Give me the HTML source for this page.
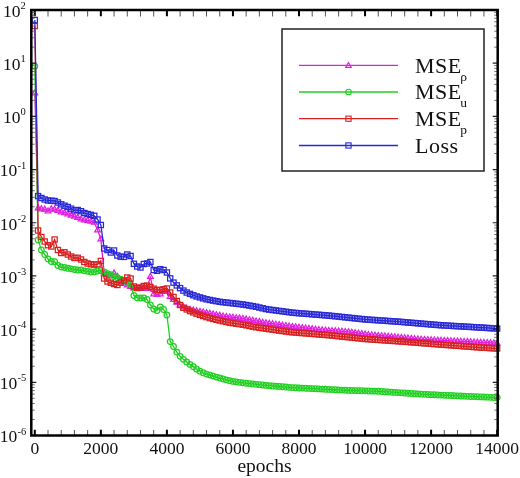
<!DOCTYPE html>
<html><head><meta charset="utf-8"><title>Loss curves</title>
<style>html,body{margin:0;padding:0;background:#fff;}svg{display:block;}</style>
</head><body>
<svg width="520" height="478" viewBox="0 0 520 478">
<rect width="520" height="478" fill="#fff"/>
<g fill="none" stroke="#e020e0"><polyline stroke-width="1.3" points="34.8,93 38.1,208 41.4,208.8 44.71,209.2 48.01,211 51.31,208.8 54.61,209.2 57.92,210.3 61.22,211.8 64.52,212.6 67.82,213.8 71.13,215.2 74.43,216.2 77.73,217.3 81.03,219 84.34,220 87.64,220.4 90.94,221.2 94.25,222.2 97.55,230 100.85,239 104.15,273 107.45,275 110.76,275.5 114.06,273 117.36,276.5 120.66,280 123.97,283 127.27,285 130.57,286.5 133.88,288 137.18,288.5 140.48,288.5 143.78,288 147.08,288.5 150.39,276.4 153.69,294 156.99,294.5 160.29,294 163.6,291.5 166.9,291 170.2,296.5 173.5,299.5 176.81,302.24 180.11,304.98 183.41,306.93 186.71,308.15 190.02,309.37 193.32,310.04 196.62,310.69 199.93,311.34 203.23,311.99 206.53,312.65 209.83,313.31 213.13,313.98 216.44,314.65 219.74,315.32 223.04,315.99 226.34,316.44 229.65,316.85 232.95,317.26 236.25,317.67 239.56,318.08 242.86,318.5 246.16,319.07 249.46,319.69 252.76,320.32 256.07,320.95 259.37,321.57 262.67,322.2 265.97,322.82 269.28,323.32 272.58,323.76 275.88,324.2 279.19,324.64 282.49,325.09 285.79,325.53 289.09,325.97 292.39,326.41 295.7,326.82 299,327.22 302.3,327.61 305.61,328 308.91,328.39 312.21,328.78 315.51,329.17 318.81,329.56 322.12,329.89 325.42,330.13 328.72,330.36 332.02,330.59 335.33,330.83 338.63,331.06 341.93,331.29 345.24,331.53 348.54,331.81 351.84,332.26 355.14,332.7 358.44,333.15 361.75,333.59 365.05,334.03 368.35,334.48 371.65,334.85 374.96,335.14 378.26,335.43 381.56,335.72 384.87,336.02 388.17,336.31 391.47,336.6 394.77,336.9 398.07,337.19 401.38,337.48 404.68,337.77 407.98,338.07 411.29,338.36 414.59,338.65 417.89,338.94 421.19,339.24 424.5,339.43 427.8,339.6 431.1,339.76 434.4,339.93 437.7,340.09 441.01,340.26 444.31,340.42 447.61,340.59 450.92,340.75 454.22,340.92 457.52,341.08 460.82,341.25 464.12,341.42 467.43,341.58 470.73,341.75 474.03,341.91 477.33,342.09 480.64,342.28 483.94,342.46 487.24,342.64 490.55,342.82 493.85,343 497.15,343.19"/><g stroke-width="1.25"><path d="M34.8 90.04L37.66 94.98L31.94 94.98Z"/><path d="M38.1 205.04L40.96 209.98L35.24 209.98Z"/><path d="M41.4 205.84L44.26 210.78L38.54 210.78Z"/><path d="M44.71 206.24L47.57 211.18L41.85 211.18Z"/><path d="M48.01 208.04L50.87 212.98L45.15 212.98Z"/><path d="M51.31 205.84L54.17 210.78L48.45 210.78Z"/><path d="M54.61 206.24L57.47 211.18L51.75 211.18Z"/><path d="M57.92 207.34L60.78 212.28L55.06 212.28Z"/><path d="M61.22 208.84L64.08 213.78L58.36 213.78Z"/><path d="M64.52 209.64L67.38 214.58L61.66 214.58Z"/><path d="M67.82 210.84L70.68 215.78L64.96 215.78Z"/><path d="M71.13 212.24L73.99 217.18L68.27 217.18Z"/><path d="M74.43 213.24L77.29 218.18L71.57 218.18Z"/><path d="M77.73 214.34L80.59 219.28L74.87 219.28Z"/><path d="M81.03 216.04L83.89 220.98L78.17 220.98Z"/><path d="M84.34 217.04L87.2 221.98L81.48 221.98Z"/><path d="M87.64 217.44L90.5 222.38L84.78 222.38Z"/><path d="M90.94 218.24L93.8 223.18L88.08 223.18Z"/><path d="M94.25 219.24L97.11 224.18L91.39 224.18Z"/><path d="M97.55 227.04L100.41 231.98L94.69 231.98Z"/><path d="M100.85 236.04L103.71 240.98L97.99 240.98Z"/><path d="M104.15 270.04L107.01 274.98L101.29 274.98Z"/><path d="M107.45 272.04L110.31 276.98L104.59 276.98Z"/><path d="M110.76 272.54L113.62 277.48L107.9 277.48Z"/><path d="M114.06 270.04L116.92 274.98L111.2 274.98Z"/><path d="M117.36 273.54L120.22 278.48L114.5 278.48Z"/><path d="M120.66 277.04L123.52 281.98L117.8 281.98Z"/><path d="M123.97 280.04L126.83 284.98L121.11 284.98Z"/><path d="M127.27 282.04L130.13 286.98L124.41 286.98Z"/><path d="M130.57 283.54L133.43 288.48L127.71 288.48Z"/><path d="M133.88 285.04L136.74 289.98L131.01 289.98Z"/><path d="M137.18 285.54L140.04 290.48L134.32 290.48Z"/><path d="M140.48 285.54L143.34 290.48L137.62 290.48Z"/><path d="M143.78 285.04L146.64 289.98L140.92 289.98Z"/><path d="M147.08 285.54L149.94 290.48L144.22 290.48Z"/><path d="M150.39 273.44L153.25 278.38L147.53 278.38Z"/><path d="M153.69 291.04L156.55 295.98L150.83 295.98Z"/><path d="M156.99 291.54L159.85 296.48L154.13 296.48Z"/><path d="M160.29 291.04L163.16 295.98L157.43 295.98Z"/><path d="M163.6 288.54L166.46 293.48L160.74 293.48Z"/><path d="M166.9 288.04L169.76 292.98L164.04 292.98Z"/><path d="M170.2 293.54L173.06 298.48L167.34 298.48Z"/><path d="M173.5 296.54L176.37 301.48L170.64 301.48Z"/><path d="M176.81 299.28L179.67 304.22L173.95 304.22Z"/><path d="M180.11 302.02L182.97 306.96L177.25 306.96Z"/><path d="M183.41 303.97L186.27 308.91L180.55 308.91Z"/><path d="M186.71 305.19L189.57 310.13L183.85 310.13Z"/><path d="M190.02 306.41L192.88 311.35L187.16 311.35Z"/><path d="M193.32 307.07L196.18 312.01L190.46 312.01Z"/><path d="M196.62 307.72L199.48 312.66L193.76 312.66Z"/><path d="M199.93 308.38L202.79 313.32L197.06 313.32Z"/><path d="M203.23 309.03L206.09 313.97L200.37 313.97Z"/><path d="M206.53 309.68L209.39 314.62L203.67 314.62Z"/><path d="M209.83 310.35L212.69 315.29L206.97 315.29Z"/><path d="M213.13 311.02L216 315.96L210.27 315.96Z"/><path d="M216.44 311.69L219.3 316.63L213.58 316.63Z"/><path d="M219.74 312.35L222.6 317.29L216.88 317.29Z"/><path d="M223.04 313.02L225.9 317.96L220.18 317.96Z"/><path d="M226.34 313.48L229.2 318.42L223.48 318.42Z"/><path d="M229.65 313.89L232.51 318.83L226.79 318.83Z"/><path d="M232.95 314.3L235.81 319.24L230.09 319.24Z"/><path d="M236.25 314.71L239.11 319.65L233.39 319.65Z"/><path d="M239.56 315.12L242.42 320.06L236.69 320.06Z"/><path d="M242.86 315.53L245.72 320.47L240 320.47Z"/><path d="M246.16 316.1L249.02 321.04L243.3 321.04Z"/><path d="M249.46 316.73L252.32 321.67L246.6 321.67Z"/><path d="M252.76 317.36L255.62 322.3L249.9 322.3Z"/><path d="M256.07 317.98L258.93 322.92L253.21 322.92Z"/><path d="M259.37 318.61L262.23 323.55L256.51 323.55Z"/><path d="M262.67 319.23L265.53 324.17L259.81 324.17Z"/><path d="M265.97 319.86L268.83 324.8L263.11 324.8Z"/><path d="M269.28 320.35L272.14 325.29L266.42 325.29Z"/><path d="M272.58 320.8L275.44 325.74L269.72 325.74Z"/><path d="M275.88 321.24L278.74 326.18L273.02 326.18Z"/><path d="M279.19 321.68L282.05 326.62L276.32 326.62Z"/><path d="M282.49 322.12L285.35 327.06L279.63 327.06Z"/><path d="M285.79 322.56L288.65 327.5L282.93 327.5Z"/><path d="M289.09 323.01L291.95 327.95L286.23 327.95Z"/><path d="M292.39 323.45L295.25 328.39L289.53 328.39Z"/><path d="M295.7 323.86L298.56 328.8L292.84 328.8Z"/><path d="M299 324.25L301.86 329.19L296.14 329.19Z"/><path d="M302.3 324.64L305.16 329.58L299.44 329.58Z"/><path d="M305.61 325.04L308.47 329.98L302.75 329.98Z"/><path d="M308.91 325.43L311.77 330.37L306.05 330.37Z"/><path d="M312.21 325.82L315.07 330.76L309.35 330.76Z"/><path d="M315.51 326.21L318.37 331.15L312.65 331.15Z"/><path d="M318.81 326.6L321.68 331.54L315.95 331.54Z"/><path d="M322.12 326.93L324.98 331.87L319.26 331.87Z"/><path d="M325.42 327.16L328.28 332.1L322.56 332.1Z"/><path d="M328.72 327.4L331.58 332.34L325.86 332.34Z"/><path d="M332.02 327.63L334.88 332.57L329.16 332.57Z"/><path d="M335.33 327.86L338.19 332.8L332.47 332.8Z"/><path d="M338.63 328.1L341.49 333.04L335.77 333.04Z"/><path d="M341.93 328.33L344.79 333.27L339.07 333.27Z"/><path d="M345.24 328.56L348.1 333.5L342.38 333.5Z"/><path d="M348.54 328.85L351.4 333.79L345.68 333.79Z"/><path d="M351.84 329.29L354.7 334.23L348.98 334.23Z"/><path d="M355.14 329.74L358 334.68L352.28 334.68Z"/><path d="M358.44 330.18L361.31 335.12L355.58 335.12Z"/><path d="M361.75 330.63L364.61 335.57L358.89 335.57Z"/><path d="M365.05 331.07L367.91 336.01L362.19 336.01Z"/><path d="M368.35 331.51L371.21 336.45L365.49 336.45Z"/><path d="M371.65 331.88L374.51 336.82L368.79 336.82Z"/><path d="M374.96 332.18L377.82 337.12L372.1 337.12Z"/><path d="M378.26 332.47L381.12 337.41L375.4 337.41Z"/><path d="M381.56 332.76L384.42 337.7L378.7 337.7Z"/><path d="M384.87 333.05L387.73 337.99L382 337.99Z"/><path d="M388.17 333.35L391.03 338.29L385.31 338.29Z"/><path d="M391.47 333.64L394.33 338.58L388.61 338.58Z"/><path d="M394.77 333.93L397.63 338.87L391.91 338.87Z"/><path d="M398.07 334.22L400.94 339.16L395.21 339.16Z"/><path d="M401.38 334.52L404.24 339.46L398.52 339.46Z"/><path d="M404.68 334.81L407.54 339.75L401.82 339.75Z"/><path d="M407.98 335.1L410.84 340.04L405.12 340.04Z"/><path d="M411.29 335.4L414.15 340.34L408.43 340.34Z"/><path d="M414.59 335.69L417.45 340.63L411.73 340.63Z"/><path d="M417.89 335.98L420.75 340.92L415.03 340.92Z"/><path d="M421.19 336.27L424.05 341.21L418.33 341.21Z"/><path d="M424.5 336.47L427.36 341.41L421.63 341.41Z"/><path d="M427.8 336.63L430.66 341.57L424.94 341.57Z"/><path d="M431.1 336.8L433.96 341.74L428.24 341.74Z"/><path d="M434.4 336.96L437.26 341.9L431.54 341.9Z"/><path d="M437.7 337.13L440.56 342.07L434.84 342.07Z"/><path d="M441.01 337.29L443.87 342.23L438.15 342.23Z"/><path d="M444.31 337.46L447.17 342.4L441.45 342.4Z"/><path d="M447.61 337.62L450.47 342.56L444.75 342.56Z"/><path d="M450.92 337.79L453.78 342.73L448.06 342.73Z"/><path d="M454.22 337.95L457.08 342.89L451.36 342.89Z"/><path d="M457.52 338.12L460.38 343.06L454.66 343.06Z"/><path d="M460.82 338.29L463.68 343.23L457.96 343.23Z"/><path d="M464.12 338.45L466.99 343.39L461.26 343.39Z"/><path d="M467.43 338.62L470.29 343.56L464.57 343.56Z"/><path d="M470.73 338.78L473.59 343.72L467.87 343.72Z"/><path d="M474.03 338.95L476.89 343.89L471.17 343.89Z"/><path d="M477.33 339.13L480.19 344.07L474.47 344.07Z"/><path d="M480.64 339.31L483.5 344.25L477.78 344.25Z"/><path d="M483.94 339.49L486.8 344.43L481.08 344.43Z"/><path d="M487.24 339.68L490.1 344.62L484.38 344.62Z"/><path d="M490.55 339.86L493.41 344.8L487.69 344.8Z"/><path d="M493.85 340.04L496.71 344.98L490.99 344.98Z"/><path d="M497.15 340.22L500.01 345.16L494.29 345.16Z"/></g></g>

<g fill="none" stroke="#20d020"><polyline stroke-width="1.3" points="34.8,66.3 38.1,240 41.4,250 44.71,254.5 48.01,259 51.31,261.5 54.61,261.7 57.92,265.5 61.22,267 64.52,267.5 67.82,268.2 71.13,268.8 74.43,269.5 77.73,270 81.03,270 84.34,270.8 87.64,271.3 90.94,272 94.25,271.8 97.55,271 100.85,270.5 104.15,271.8 107.45,273.6 110.76,274.6 114.06,276.4 117.36,277.7 120.66,279.2 123.97,280.6 127.27,282.5 130.57,284.3 133.88,295.5 137.18,297.8 140.48,298 143.78,297.8 147.08,299.5 150.39,305 153.69,309 156.99,310.5 160.29,307 163.6,309.5 166.9,315 170.2,341.6 173.5,346.5 176.81,352.07 180.11,356.35 183.41,359.36 186.71,362.01 190.02,364.38 193.32,366.77 196.62,369.19 199.93,371.13 203.23,372.74 206.53,374.06 209.83,375.06 213.13,376.06 216.44,377.05 219.74,378.03 223.04,378.99 226.34,379.81 229.65,380.64 232.95,381.44 236.25,381.9 239.56,382.36 242.86,382.83 246.16,383.25 249.46,383.61 252.76,383.96 256.07,384.32 259.37,384.68 262.67,385.04 265.97,385.4 269.28,385.69 272.58,385.96 275.88,386.23 279.19,386.5 282.49,386.77 285.79,387.04 289.09,387.31 292.39,387.59 295.7,387.79 299,387.95 302.3,388.11 305.61,388.27 308.91,388.43 312.21,388.59 315.51,388.75 318.81,388.9 322.12,389.07 325.42,389.24 328.72,389.41 332.02,389.58 335.33,389.76 338.63,389.93 341.93,390.1 345.24,390.27 348.54,390.42 351.84,390.51 355.14,390.6 358.44,390.69 361.75,390.78 365.05,390.87 368.35,390.96 371.65,391.05 374.96,391.14 378.26,391.26 381.56,391.49 384.87,391.71 388.17,391.93 391.47,392.15 394.77,392.38 398.07,392.6 401.38,392.82 404.68,393.04 407.98,393.26 411.29,393.49 414.59,393.71 417.89,393.93 421.19,394.15 424.5,394.32 427.8,394.47 431.1,394.63 434.4,394.78 437.7,394.93 441.01,395.08 444.31,395.24 447.61,395.39 450.92,395.54 454.22,395.69 457.52,395.85 460.82,396 464.12,396.15 467.43,396.31 470.73,396.46 474.03,396.61 477.33,396.75 480.64,396.89 483.94,397.03 487.24,397.17 490.55,397.31 493.85,397.45 497.15,397.59"/><g stroke-width="1.25"><circle cx="34.8" cy="66.3" r="2.8"/><circle cx="38.1" cy="240" r="2.8"/><circle cx="41.4" cy="250" r="2.8"/><circle cx="44.71" cy="254.5" r="2.8"/><circle cx="48.01" cy="259" r="2.8"/><circle cx="51.31" cy="261.5" r="2.8"/><circle cx="54.61" cy="261.7" r="2.8"/><circle cx="57.92" cy="265.5" r="2.8"/><circle cx="61.22" cy="267" r="2.8"/><circle cx="64.52" cy="267.5" r="2.8"/><circle cx="67.82" cy="268.2" r="2.8"/><circle cx="71.13" cy="268.8" r="2.8"/><circle cx="74.43" cy="269.5" r="2.8"/><circle cx="77.73" cy="270" r="2.8"/><circle cx="81.03" cy="270" r="2.8"/><circle cx="84.34" cy="270.8" r="2.8"/><circle cx="87.64" cy="271.3" r="2.8"/><circle cx="90.94" cy="272" r="2.8"/><circle cx="94.25" cy="271.8" r="2.8"/><circle cx="97.55" cy="271" r="2.8"/><circle cx="100.85" cy="270.5" r="2.8"/><circle cx="104.15" cy="271.8" r="2.8"/><circle cx="107.45" cy="273.6" r="2.8"/><circle cx="110.76" cy="274.6" r="2.8"/><circle cx="114.06" cy="276.4" r="2.8"/><circle cx="117.36" cy="277.7" r="2.8"/><circle cx="120.66" cy="279.2" r="2.8"/><circle cx="123.97" cy="280.6" r="2.8"/><circle cx="127.27" cy="282.5" r="2.8"/><circle cx="130.57" cy="284.3" r="2.8"/><circle cx="133.88" cy="295.5" r="2.8"/><circle cx="137.18" cy="297.8" r="2.8"/><circle cx="140.48" cy="298" r="2.8"/><circle cx="143.78" cy="297.8" r="2.8"/><circle cx="147.08" cy="299.5" r="2.8"/><circle cx="150.39" cy="305" r="2.8"/><circle cx="153.69" cy="309" r="2.8"/><circle cx="156.99" cy="310.5" r="2.8"/><circle cx="160.29" cy="307" r="2.8"/><circle cx="163.6" cy="309.5" r="2.8"/><circle cx="166.9" cy="315" r="2.8"/><circle cx="170.2" cy="341.6" r="2.8"/><circle cx="173.5" cy="346.5" r="2.8"/><circle cx="176.81" cy="352.07" r="2.8"/><circle cx="180.11" cy="356.35" r="2.8"/><circle cx="183.41" cy="359.36" r="2.8"/><circle cx="186.71" cy="362.01" r="2.8"/><circle cx="190.02" cy="364.38" r="2.8"/><circle cx="193.32" cy="366.77" r="2.8"/><circle cx="196.62" cy="369.19" r="2.8"/><circle cx="199.93" cy="371.13" r="2.8"/><circle cx="203.23" cy="372.74" r="2.8"/><circle cx="206.53" cy="374.06" r="2.8"/><circle cx="209.83" cy="375.06" r="2.8"/><circle cx="213.13" cy="376.06" r="2.8"/><circle cx="216.44" cy="377.05" r="2.8"/><circle cx="219.74" cy="378.03" r="2.8"/><circle cx="223.04" cy="378.99" r="2.8"/><circle cx="226.34" cy="379.81" r="2.8"/><circle cx="229.65" cy="380.64" r="2.8"/><circle cx="232.95" cy="381.44" r="2.8"/><circle cx="236.25" cy="381.9" r="2.8"/><circle cx="239.56" cy="382.36" r="2.8"/><circle cx="242.86" cy="382.83" r="2.8"/><circle cx="246.16" cy="383.25" r="2.8"/><circle cx="249.46" cy="383.61" r="2.8"/><circle cx="252.76" cy="383.96" r="2.8"/><circle cx="256.07" cy="384.32" r="2.8"/><circle cx="259.37" cy="384.68" r="2.8"/><circle cx="262.67" cy="385.04" r="2.8"/><circle cx="265.97" cy="385.4" r="2.8"/><circle cx="269.28" cy="385.69" r="2.8"/><circle cx="272.58" cy="385.96" r="2.8"/><circle cx="275.88" cy="386.23" r="2.8"/><circle cx="279.19" cy="386.5" r="2.8"/><circle cx="282.49" cy="386.77" r="2.8"/><circle cx="285.79" cy="387.04" r="2.8"/><circle cx="289.09" cy="387.31" r="2.8"/><circle cx="292.39" cy="387.59" r="2.8"/><circle cx="295.7" cy="387.79" r="2.8"/><circle cx="299" cy="387.95" r="2.8"/><circle cx="302.3" cy="388.11" r="2.8"/><circle cx="305.61" cy="388.27" r="2.8"/><circle cx="308.91" cy="388.43" r="2.8"/><circle cx="312.21" cy="388.59" r="2.8"/><circle cx="315.51" cy="388.75" r="2.8"/><circle cx="318.81" cy="388.9" r="2.8"/><circle cx="322.12" cy="389.07" r="2.8"/><circle cx="325.42" cy="389.24" r="2.8"/><circle cx="328.72" cy="389.41" r="2.8"/><circle cx="332.02" cy="389.58" r="2.8"/><circle cx="335.33" cy="389.76" r="2.8"/><circle cx="338.63" cy="389.93" r="2.8"/><circle cx="341.93" cy="390.1" r="2.8"/><circle cx="345.24" cy="390.27" r="2.8"/><circle cx="348.54" cy="390.42" r="2.8"/><circle cx="351.84" cy="390.51" r="2.8"/><circle cx="355.14" cy="390.6" r="2.8"/><circle cx="358.44" cy="390.69" r="2.8"/><circle cx="361.75" cy="390.78" r="2.8"/><circle cx="365.05" cy="390.87" r="2.8"/><circle cx="368.35" cy="390.96" r="2.8"/><circle cx="371.65" cy="391.05" r="2.8"/><circle cx="374.96" cy="391.14" r="2.8"/><circle cx="378.26" cy="391.26" r="2.8"/><circle cx="381.56" cy="391.49" r="2.8"/><circle cx="384.87" cy="391.71" r="2.8"/><circle cx="388.17" cy="391.93" r="2.8"/><circle cx="391.47" cy="392.15" r="2.8"/><circle cx="394.77" cy="392.38" r="2.8"/><circle cx="398.07" cy="392.6" r="2.8"/><circle cx="401.38" cy="392.82" r="2.8"/><circle cx="404.68" cy="393.04" r="2.8"/><circle cx="407.98" cy="393.26" r="2.8"/><circle cx="411.29" cy="393.49" r="2.8"/><circle cx="414.59" cy="393.71" r="2.8"/><circle cx="417.89" cy="393.93" r="2.8"/><circle cx="421.19" cy="394.15" r="2.8"/><circle cx="424.5" cy="394.32" r="2.8"/><circle cx="427.8" cy="394.47" r="2.8"/><circle cx="431.1" cy="394.63" r="2.8"/><circle cx="434.4" cy="394.78" r="2.8"/><circle cx="437.7" cy="394.93" r="2.8"/><circle cx="441.01" cy="395.08" r="2.8"/><circle cx="444.31" cy="395.24" r="2.8"/><circle cx="447.61" cy="395.39" r="2.8"/><circle cx="450.92" cy="395.54" r="2.8"/><circle cx="454.22" cy="395.69" r="2.8"/><circle cx="457.52" cy="395.85" r="2.8"/><circle cx="460.82" cy="396" r="2.8"/><circle cx="464.12" cy="396.15" r="2.8"/><circle cx="467.43" cy="396.31" r="2.8"/><circle cx="470.73" cy="396.46" r="2.8"/><circle cx="474.03" cy="396.61" r="2.8"/><circle cx="477.33" cy="396.75" r="2.8"/><circle cx="480.64" cy="396.89" r="2.8"/><circle cx="483.94" cy="397.03" r="2.8"/><circle cx="487.24" cy="397.17" r="2.8"/><circle cx="490.55" cy="397.31" r="2.8"/><circle cx="493.85" cy="397.45" r="2.8"/><circle cx="497.15" cy="397.59" r="2.8"/></g></g>

<g fill="none" stroke="#d82020"><polyline stroke-width="1.3" points="34.8,26 38.1,230.5 41.4,237 44.71,241.5 48.01,245.2 51.31,246.5 54.61,239.5 57.92,250 61.22,253 64.52,252.3 67.82,254.5 71.13,256.5 74.43,258 77.73,257.8 81.03,259.5 84.34,262 87.64,263.5 90.94,264.3 94.25,264.6 97.55,264.3 100.85,260.9 104.15,278.5 107.45,281.5 110.76,282.8 114.06,284 117.36,285 120.66,282.6 123.97,280.5 127.27,277.5 130.57,278.5 133.88,286.5 137.18,288 140.48,287.5 143.78,286 147.08,285.6 150.39,287 153.69,288.7 156.99,290 160.29,290 163.6,289.2 166.9,288.5 170.2,292.5 173.5,297 176.81,300.99 180.11,304.98 183.41,307.76 186.71,309.41 190.02,311.06 193.32,312.37 196.62,313.66 199.93,314.88 203.23,316.01 206.53,317.13 209.83,318.13 213.13,318.95 216.44,319.76 219.74,320.54 223.04,321.25 226.34,321.95 229.65,322.66 232.95,323.2 236.25,323.69 239.56,324.18 242.86,324.67 246.16,325.3 249.46,325.97 252.76,326.65 256.07,327.25 259.37,327.72 262.67,328.2 265.97,328.67 269.28,329.14 272.58,329.61 275.88,330.08 279.19,330.56 282.49,331.03 285.79,331.5 289.09,331.97 292.39,332.29 295.7,332.56 299,332.82 302.3,333.08 305.61,333.35 308.91,333.61 312.21,333.88 315.51,334.14 318.81,334.41 322.12,334.67 325.42,334.93 328.72,335.2 332.02,335.51 335.33,335.86 338.63,336.21 341.93,336.56 345.24,336.91 348.54,337.26 351.84,337.61 355.14,337.96 358.44,338.31 361.75,338.66 365.05,339 368.35,339.23 371.65,339.46 374.96,339.68 378.26,339.91 381.56,340.14 384.87,340.36 388.17,340.59 391.47,340.82 394.77,341.04 398.07,341.27 401.38,341.51 404.68,341.76 407.98,342.02 411.29,342.27 414.59,342.53 417.89,342.79 421.19,343.04 424.5,343.3 427.8,343.55 431.1,343.81 434.4,344.07 437.7,344.32 441.01,344.58 444.31,344.82 447.61,345.07 450.92,345.32 454.22,345.57 457.52,345.81 460.82,346.06 464.12,346.31 467.43,346.56 470.73,346.8 474.03,347.05 477.33,347.3 480.64,347.54 483.94,347.73 487.24,347.92 490.55,348.11 493.85,348.3 497.15,348.49"/><g stroke-width="1.25"><rect x="32.2" y="23.4" width="5.2" height="5.2"/><rect x="35.5" y="227.9" width="5.2" height="5.2"/><rect x="38.8" y="234.4" width="5.2" height="5.2"/><rect x="42.11" y="238.9" width="5.2" height="5.2"/><rect x="45.41" y="242.6" width="5.2" height="5.2"/><rect x="48.71" y="243.9" width="5.2" height="5.2"/><rect x="52.01" y="236.9" width="5.2" height="5.2"/><rect x="55.32" y="247.4" width="5.2" height="5.2"/><rect x="58.62" y="250.4" width="5.2" height="5.2"/><rect x="61.92" y="249.7" width="5.2" height="5.2"/><rect x="65.22" y="251.9" width="5.2" height="5.2"/><rect x="68.53" y="253.9" width="5.2" height="5.2"/><rect x="71.83" y="255.4" width="5.2" height="5.2"/><rect x="75.13" y="255.2" width="5.2" height="5.2"/><rect x="78.44" y="256.9" width="5.2" height="5.2"/><rect x="81.74" y="259.4" width="5.2" height="5.2"/><rect x="85.04" y="260.9" width="5.2" height="5.2"/><rect x="88.34" y="261.7" width="5.2" height="5.2"/><rect x="91.65" y="262" width="5.2" height="5.2"/><rect x="94.95" y="261.7" width="5.2" height="5.2"/><rect x="98.25" y="258.3" width="5.2" height="5.2"/><rect x="101.55" y="275.9" width="5.2" height="5.2"/><rect x="104.86" y="278.9" width="5.2" height="5.2"/><rect x="108.16" y="280.2" width="5.2" height="5.2"/><rect x="111.46" y="281.4" width="5.2" height="5.2"/><rect x="114.76" y="282.4" width="5.2" height="5.2"/><rect x="118.06" y="280" width="5.2" height="5.2"/><rect x="121.37" y="277.9" width="5.2" height="5.2"/><rect x="124.67" y="274.9" width="5.2" height="5.2"/><rect x="127.97" y="275.9" width="5.2" height="5.2"/><rect x="131.28" y="283.9" width="5.2" height="5.2"/><rect x="134.58" y="285.4" width="5.2" height="5.2"/><rect x="137.88" y="284.9" width="5.2" height="5.2"/><rect x="141.18" y="283.4" width="5.2" height="5.2"/><rect x="144.48" y="283" width="5.2" height="5.2"/><rect x="147.79" y="284.4" width="5.2" height="5.2"/><rect x="151.09" y="286.1" width="5.2" height="5.2"/><rect x="154.39" y="287.4" width="5.2" height="5.2"/><rect x="157.69" y="287.4" width="5.2" height="5.2"/><rect x="161" y="286.6" width="5.2" height="5.2"/><rect x="164.3" y="285.9" width="5.2" height="5.2"/><rect x="167.6" y="289.9" width="5.2" height="5.2"/><rect x="170.91" y="294.4" width="5.2" height="5.2"/><rect x="174.21" y="298.39" width="5.2" height="5.2"/><rect x="177.51" y="302.38" width="5.2" height="5.2"/><rect x="180.81" y="305.16" width="5.2" height="5.2"/><rect x="184.11" y="306.81" width="5.2" height="5.2"/><rect x="187.42" y="308.46" width="5.2" height="5.2"/><rect x="190.72" y="309.76" width="5.2" height="5.2"/><rect x="194.02" y="311.06" width="5.2" height="5.2"/><rect x="197.33" y="312.28" width="5.2" height="5.2"/><rect x="200.63" y="313.41" width="5.2" height="5.2"/><rect x="203.93" y="314.53" width="5.2" height="5.2"/><rect x="207.23" y="315.53" width="5.2" height="5.2"/><rect x="210.53" y="316.35" width="5.2" height="5.2"/><rect x="213.84" y="317.16" width="5.2" height="5.2"/><rect x="217.14" y="317.94" width="5.2" height="5.2"/><rect x="220.44" y="318.65" width="5.2" height="5.2"/><rect x="223.74" y="319.35" width="5.2" height="5.2"/><rect x="227.05" y="320.06" width="5.2" height="5.2"/><rect x="230.35" y="320.6" width="5.2" height="5.2"/><rect x="233.65" y="321.09" width="5.2" height="5.2"/><rect x="236.96" y="321.58" width="5.2" height="5.2"/><rect x="240.26" y="322.07" width="5.2" height="5.2"/><rect x="243.56" y="322.7" width="5.2" height="5.2"/><rect x="246.86" y="323.37" width="5.2" height="5.2"/><rect x="250.16" y="324.05" width="5.2" height="5.2"/><rect x="253.47" y="324.65" width="5.2" height="5.2"/><rect x="256.77" y="325.12" width="5.2" height="5.2"/><rect x="260.07" y="325.6" width="5.2" height="5.2"/><rect x="263.37" y="326.07" width="5.2" height="5.2"/><rect x="266.68" y="326.54" width="5.2" height="5.2"/><rect x="269.98" y="327.01" width="5.2" height="5.2"/><rect x="273.28" y="327.48" width="5.2" height="5.2"/><rect x="276.58" y="327.95" width="5.2" height="5.2"/><rect x="279.89" y="328.43" width="5.2" height="5.2"/><rect x="283.19" y="328.9" width="5.2" height="5.2"/><rect x="286.49" y="329.37" width="5.2" height="5.2"/><rect x="289.79" y="329.69" width="5.2" height="5.2"/><rect x="293.1" y="329.96" width="5.2" height="5.2"/><rect x="296.4" y="330.22" width="5.2" height="5.2"/><rect x="299.7" y="330.48" width="5.2" height="5.2"/><rect x="303" y="330.75" width="5.2" height="5.2"/><rect x="306.31" y="331.01" width="5.2" height="5.2"/><rect x="309.61" y="331.28" width="5.2" height="5.2"/><rect x="312.91" y="331.54" width="5.2" height="5.2"/><rect x="316.21" y="331.81" width="5.2" height="5.2"/><rect x="319.52" y="332.07" width="5.2" height="5.2"/><rect x="322.82" y="332.33" width="5.2" height="5.2"/><rect x="326.12" y="332.6" width="5.2" height="5.2"/><rect x="329.42" y="332.91" width="5.2" height="5.2"/><rect x="332.73" y="333.26" width="5.2" height="5.2"/><rect x="336.03" y="333.61" width="5.2" height="5.2"/><rect x="339.33" y="333.96" width="5.2" height="5.2"/><rect x="342.63" y="334.31" width="5.2" height="5.2"/><rect x="345.94" y="334.66" width="5.2" height="5.2"/><rect x="349.24" y="335.01" width="5.2" height="5.2"/><rect x="352.54" y="335.36" width="5.2" height="5.2"/><rect x="355.84" y="335.71" width="5.2" height="5.2"/><rect x="359.15" y="336.06" width="5.2" height="5.2"/><rect x="362.45" y="336.4" width="5.2" height="5.2"/><rect x="365.75" y="336.63" width="5.2" height="5.2"/><rect x="369.05" y="336.86" width="5.2" height="5.2"/><rect x="372.36" y="337.08" width="5.2" height="5.2"/><rect x="375.66" y="337.31" width="5.2" height="5.2"/><rect x="378.96" y="337.54" width="5.2" height="5.2"/><rect x="382.26" y="337.76" width="5.2" height="5.2"/><rect x="385.57" y="337.99" width="5.2" height="5.2"/><rect x="388.87" y="338.22" width="5.2" height="5.2"/><rect x="392.17" y="338.44" width="5.2" height="5.2"/><rect x="395.47" y="338.67" width="5.2" height="5.2"/><rect x="398.78" y="338.91" width="5.2" height="5.2"/><rect x="402.08" y="339.16" width="5.2" height="5.2"/><rect x="405.38" y="339.42" width="5.2" height="5.2"/><rect x="408.69" y="339.67" width="5.2" height="5.2"/><rect x="411.99" y="339.93" width="5.2" height="5.2"/><rect x="415.29" y="340.19" width="5.2" height="5.2"/><rect x="418.59" y="340.44" width="5.2" height="5.2"/><rect x="421.89" y="340.7" width="5.2" height="5.2"/><rect x="425.2" y="340.95" width="5.2" height="5.2"/><rect x="428.5" y="341.21" width="5.2" height="5.2"/><rect x="431.8" y="341.47" width="5.2" height="5.2"/><rect x="435.1" y="341.72" width="5.2" height="5.2"/><rect x="438.41" y="341.98" width="5.2" height="5.2"/><rect x="441.71" y="342.22" width="5.2" height="5.2"/><rect x="445.01" y="342.47" width="5.2" height="5.2"/><rect x="448.31" y="342.72" width="5.2" height="5.2"/><rect x="451.62" y="342.97" width="5.2" height="5.2"/><rect x="454.92" y="343.21" width="5.2" height="5.2"/><rect x="458.22" y="343.46" width="5.2" height="5.2"/><rect x="461.52" y="343.71" width="5.2" height="5.2"/><rect x="464.83" y="343.96" width="5.2" height="5.2"/><rect x="468.13" y="344.2" width="5.2" height="5.2"/><rect x="471.43" y="344.45" width="5.2" height="5.2"/><rect x="474.73" y="344.7" width="5.2" height="5.2"/><rect x="478.04" y="344.94" width="5.2" height="5.2"/><rect x="481.34" y="345.13" width="5.2" height="5.2"/><rect x="484.64" y="345.32" width="5.2" height="5.2"/><rect x="487.94" y="345.51" width="5.2" height="5.2"/><rect x="491.25" y="345.7" width="5.2" height="5.2"/><rect x="494.55" y="345.89" width="5.2" height="5.2"/></g></g>

<g fill="none" stroke="#2828d8"><polyline stroke-width="1.3" points="34.8,20 38.1,196.1 41.4,198 44.71,199.5 48.01,200.5 51.31,200.7 54.61,201 57.92,202.5 61.22,204.3 64.52,205.7 67.82,207 71.13,208.7 74.43,210.3 77.73,210 81.03,211.2 84.34,213 87.64,214 90.94,214.8 94.25,215.8 97.55,219.5 100.85,225 104.15,248.5 107.45,250 110.76,252.5 114.06,250.5 117.36,255.5 120.66,256.7 123.97,256.9 127.27,254.5 130.57,256 133.88,263.8 137.18,266.5 140.48,267.5 143.78,264 147.08,263.5 150.39,262 153.69,270 156.99,270.8 160.29,269.2 163.6,270 166.9,272.5 170.2,278.4 173.5,282.6 176.81,285.43 180.11,288.1 183.41,290.6 186.71,292.51 190.02,293.89 193.32,295.26 196.62,296.44 199.93,297.4 203.23,298.36 206.53,299.32 209.83,299.97 213.13,300.58 216.44,301.2 219.74,301.81 223.04,302.21 226.34,302.58 229.65,302.94 232.95,303.31 236.25,303.71 239.56,304.1 242.86,304.5 246.16,305.01 249.46,305.57 252.76,306.12 256.07,306.75 259.37,307.53 262.67,308.31 265.97,309.08 269.28,309.61 272.58,310.04 275.88,310.47 279.19,310.9 282.49,311.33 285.79,311.76 289.09,312.19 292.39,312.62 295.7,312.95 299,313.22 302.3,313.48 305.61,313.75 308.91,314.01 312.21,314.27 315.51,314.54 318.81,314.8 322.12,315.07 325.42,315.33 328.72,315.6 332.02,315.91 335.33,316.26 338.63,316.61 341.93,316.96 345.24,317.31 348.54,317.66 351.84,318.01 355.14,318.36 358.44,318.71 361.75,319.06 365.05,319.4 368.35,319.63 371.65,319.86 374.96,320.08 378.26,320.31 381.56,320.54 384.87,320.76 388.17,320.99 391.47,321.22 394.77,321.44 398.07,321.67 401.38,321.92 404.68,322.2 407.98,322.48 411.29,322.76 414.59,323.04 417.89,323.32 421.19,323.6 424.5,323.88 427.8,324.16 431.1,324.44 434.4,324.72 437.7,325 441.01,325.26 444.31,325.45 447.61,325.64 450.92,325.83 454.22,326.02 457.52,326.21 460.82,326.4 464.12,326.59 467.43,326.78 470.73,326.97 474.03,327.16 477.33,327.35 480.64,327.54 483.94,327.75 487.24,327.96 490.55,328.17 493.85,328.38 497.15,328.58"/><g stroke-width="1.25"><rect x="32.2" y="17.4" width="5.2" height="5.2"/><rect x="35.5" y="193.5" width="5.2" height="5.2"/><rect x="38.8" y="195.4" width="5.2" height="5.2"/><rect x="42.11" y="196.9" width="5.2" height="5.2"/><rect x="45.41" y="197.9" width="5.2" height="5.2"/><rect x="48.71" y="198.1" width="5.2" height="5.2"/><rect x="52.01" y="198.4" width="5.2" height="5.2"/><rect x="55.32" y="199.9" width="5.2" height="5.2"/><rect x="58.62" y="201.7" width="5.2" height="5.2"/><rect x="61.92" y="203.1" width="5.2" height="5.2"/><rect x="65.22" y="204.4" width="5.2" height="5.2"/><rect x="68.53" y="206.1" width="5.2" height="5.2"/><rect x="71.83" y="207.7" width="5.2" height="5.2"/><rect x="75.13" y="207.4" width="5.2" height="5.2"/><rect x="78.44" y="208.6" width="5.2" height="5.2"/><rect x="81.74" y="210.4" width="5.2" height="5.2"/><rect x="85.04" y="211.4" width="5.2" height="5.2"/><rect x="88.34" y="212.2" width="5.2" height="5.2"/><rect x="91.65" y="213.2" width="5.2" height="5.2"/><rect x="94.95" y="216.9" width="5.2" height="5.2"/><rect x="98.25" y="222.4" width="5.2" height="5.2"/><rect x="101.55" y="245.9" width="5.2" height="5.2"/><rect x="104.86" y="247.4" width="5.2" height="5.2"/><rect x="108.16" y="249.9" width="5.2" height="5.2"/><rect x="111.46" y="247.9" width="5.2" height="5.2"/><rect x="114.76" y="252.9" width="5.2" height="5.2"/><rect x="118.06" y="254.1" width="5.2" height="5.2"/><rect x="121.37" y="254.3" width="5.2" height="5.2"/><rect x="124.67" y="251.9" width="5.2" height="5.2"/><rect x="127.97" y="253.4" width="5.2" height="5.2"/><rect x="131.28" y="261.2" width="5.2" height="5.2"/><rect x="134.58" y="263.9" width="5.2" height="5.2"/><rect x="137.88" y="264.9" width="5.2" height="5.2"/><rect x="141.18" y="261.4" width="5.2" height="5.2"/><rect x="144.48" y="260.9" width="5.2" height="5.2"/><rect x="147.79" y="259.4" width="5.2" height="5.2"/><rect x="151.09" y="267.4" width="5.2" height="5.2"/><rect x="154.39" y="268.2" width="5.2" height="5.2"/><rect x="157.69" y="266.6" width="5.2" height="5.2"/><rect x="161" y="267.4" width="5.2" height="5.2"/><rect x="164.3" y="269.9" width="5.2" height="5.2"/><rect x="167.6" y="275.8" width="5.2" height="5.2"/><rect x="170.91" y="280" width="5.2" height="5.2"/><rect x="174.21" y="282.83" width="5.2" height="5.2"/><rect x="177.51" y="285.5" width="5.2" height="5.2"/><rect x="180.81" y="288" width="5.2" height="5.2"/><rect x="184.11" y="289.91" width="5.2" height="5.2"/><rect x="187.42" y="291.29" width="5.2" height="5.2"/><rect x="190.72" y="292.66" width="5.2" height="5.2"/><rect x="194.02" y="293.84" width="5.2" height="5.2"/><rect x="197.33" y="294.8" width="5.2" height="5.2"/><rect x="200.63" y="295.76" width="5.2" height="5.2"/><rect x="203.93" y="296.72" width="5.2" height="5.2"/><rect x="207.23" y="297.37" width="5.2" height="5.2"/><rect x="210.53" y="297.98" width="5.2" height="5.2"/><rect x="213.84" y="298.6" width="5.2" height="5.2"/><rect x="217.14" y="299.21" width="5.2" height="5.2"/><rect x="220.44" y="299.61" width="5.2" height="5.2"/><rect x="223.74" y="299.98" width="5.2" height="5.2"/><rect x="227.05" y="300.34" width="5.2" height="5.2"/><rect x="230.35" y="300.71" width="5.2" height="5.2"/><rect x="233.65" y="301.11" width="5.2" height="5.2"/><rect x="236.96" y="301.5" width="5.2" height="5.2"/><rect x="240.26" y="301.9" width="5.2" height="5.2"/><rect x="243.56" y="302.41" width="5.2" height="5.2"/><rect x="246.86" y="302.97" width="5.2" height="5.2"/><rect x="250.16" y="303.52" width="5.2" height="5.2"/><rect x="253.47" y="304.15" width="5.2" height="5.2"/><rect x="256.77" y="304.93" width="5.2" height="5.2"/><rect x="260.07" y="305.71" width="5.2" height="5.2"/><rect x="263.37" y="306.48" width="5.2" height="5.2"/><rect x="266.68" y="307.01" width="5.2" height="5.2"/><rect x="269.98" y="307.44" width="5.2" height="5.2"/><rect x="273.28" y="307.87" width="5.2" height="5.2"/><rect x="276.58" y="308.3" width="5.2" height="5.2"/><rect x="279.89" y="308.73" width="5.2" height="5.2"/><rect x="283.19" y="309.16" width="5.2" height="5.2"/><rect x="286.49" y="309.59" width="5.2" height="5.2"/><rect x="289.79" y="310.02" width="5.2" height="5.2"/><rect x="293.1" y="310.35" width="5.2" height="5.2"/><rect x="296.4" y="310.62" width="5.2" height="5.2"/><rect x="299.7" y="310.88" width="5.2" height="5.2"/><rect x="303" y="311.15" width="5.2" height="5.2"/><rect x="306.31" y="311.41" width="5.2" height="5.2"/><rect x="309.61" y="311.67" width="5.2" height="5.2"/><rect x="312.91" y="311.94" width="5.2" height="5.2"/><rect x="316.21" y="312.2" width="5.2" height="5.2"/><rect x="319.52" y="312.47" width="5.2" height="5.2"/><rect x="322.82" y="312.73" width="5.2" height="5.2"/><rect x="326.12" y="313" width="5.2" height="5.2"/><rect x="329.42" y="313.31" width="5.2" height="5.2"/><rect x="332.73" y="313.66" width="5.2" height="5.2"/><rect x="336.03" y="314.01" width="5.2" height="5.2"/><rect x="339.33" y="314.36" width="5.2" height="5.2"/><rect x="342.63" y="314.71" width="5.2" height="5.2"/><rect x="345.94" y="315.06" width="5.2" height="5.2"/><rect x="349.24" y="315.41" width="5.2" height="5.2"/><rect x="352.54" y="315.76" width="5.2" height="5.2"/><rect x="355.84" y="316.11" width="5.2" height="5.2"/><rect x="359.15" y="316.46" width="5.2" height="5.2"/><rect x="362.45" y="316.8" width="5.2" height="5.2"/><rect x="365.75" y="317.03" width="5.2" height="5.2"/><rect x="369.05" y="317.26" width="5.2" height="5.2"/><rect x="372.36" y="317.48" width="5.2" height="5.2"/><rect x="375.66" y="317.71" width="5.2" height="5.2"/><rect x="378.96" y="317.94" width="5.2" height="5.2"/><rect x="382.26" y="318.16" width="5.2" height="5.2"/><rect x="385.57" y="318.39" width="5.2" height="5.2"/><rect x="388.87" y="318.62" width="5.2" height="5.2"/><rect x="392.17" y="318.84" width="5.2" height="5.2"/><rect x="395.47" y="319.07" width="5.2" height="5.2"/><rect x="398.78" y="319.32" width="5.2" height="5.2"/><rect x="402.08" y="319.6" width="5.2" height="5.2"/><rect x="405.38" y="319.88" width="5.2" height="5.2"/><rect x="408.69" y="320.16" width="5.2" height="5.2"/><rect x="411.99" y="320.44" width="5.2" height="5.2"/><rect x="415.29" y="320.72" width="5.2" height="5.2"/><rect x="418.59" y="321" width="5.2" height="5.2"/><rect x="421.89" y="321.28" width="5.2" height="5.2"/><rect x="425.2" y="321.56" width="5.2" height="5.2"/><rect x="428.5" y="321.84" width="5.2" height="5.2"/><rect x="431.8" y="322.12" width="5.2" height="5.2"/><rect x="435.1" y="322.4" width="5.2" height="5.2"/><rect x="438.41" y="322.66" width="5.2" height="5.2"/><rect x="441.71" y="322.85" width="5.2" height="5.2"/><rect x="445.01" y="323.04" width="5.2" height="5.2"/><rect x="448.31" y="323.23" width="5.2" height="5.2"/><rect x="451.62" y="323.42" width="5.2" height="5.2"/><rect x="454.92" y="323.61" width="5.2" height="5.2"/><rect x="458.22" y="323.8" width="5.2" height="5.2"/><rect x="461.52" y="323.99" width="5.2" height="5.2"/><rect x="464.83" y="324.18" width="5.2" height="5.2"/><rect x="468.13" y="324.37" width="5.2" height="5.2"/><rect x="471.43" y="324.56" width="5.2" height="5.2"/><rect x="474.73" y="324.75" width="5.2" height="5.2"/><rect x="478.04" y="324.94" width="5.2" height="5.2"/><rect x="481.34" y="325.15" width="5.2" height="5.2"/><rect x="484.64" y="325.36" width="5.2" height="5.2"/><rect x="487.94" y="325.57" width="5.2" height="5.2"/><rect x="491.25" y="325.78" width="5.2" height="5.2"/><rect x="494.55" y="325.98" width="5.2" height="5.2"/></g></g>

<g stroke="#000" fill="none"><path d="M34.8 435.5V429.7 M34.8 10V16.3" stroke-width="2"/><path d="M48.01 435.5V430 M48.01 10V16.5" stroke-width="1" stroke="#555"/><path d="M61.22 435.5V430 M61.22 10V16.5" stroke-width="1" stroke="#555"/><path d="M74.43 435.5V430 M74.43 10V16.5" stroke-width="1" stroke="#555"/><path d="M87.64 435.5V430 M87.64 10V16.5" stroke-width="1" stroke="#555"/><path d="M100.85 435.5V429.7 M100.85 10V16.3" stroke-width="2"/><path d="M114.06 435.5V430 M114.06 10V16.5" stroke-width="1" stroke="#555"/><path d="M127.27 435.5V430 M127.27 10V16.5" stroke-width="1" stroke="#555"/><path d="M140.48 435.5V430 M140.48 10V16.5" stroke-width="1" stroke="#555"/><path d="M153.69 435.5V430 M153.69 10V16.5" stroke-width="1" stroke="#555"/><path d="M166.9 435.5V429.7 M166.9 10V16.3" stroke-width="2"/><path d="M180.11 435.5V430 M180.11 10V16.5" stroke-width="1" stroke="#555"/><path d="M193.32 435.5V430 M193.32 10V16.5" stroke-width="1" stroke="#555"/><path d="M206.53 435.5V430 M206.53 10V16.5" stroke-width="1" stroke="#555"/><path d="M219.74 435.5V430 M219.74 10V16.5" stroke-width="1" stroke="#555"/><path d="M232.95 435.5V429.7 M232.95 10V16.3" stroke-width="2"/><path d="M246.16 435.5V430 M246.16 10V16.5" stroke-width="1" stroke="#555"/><path d="M259.37 435.5V430 M259.37 10V16.5" stroke-width="1" stroke="#555"/><path d="M272.58 435.5V430 M272.58 10V16.5" stroke-width="1" stroke="#555"/><path d="M285.79 435.5V430 M285.79 10V16.5" stroke-width="1" stroke="#555"/><path d="M299 435.5V429.7 M299 10V16.3" stroke-width="2"/><path d="M312.21 435.5V430 M312.21 10V16.5" stroke-width="1" stroke="#555"/><path d="M325.42 435.5V430 M325.42 10V16.5" stroke-width="1" stroke="#555"/><path d="M338.63 435.5V430 M338.63 10V16.5" stroke-width="1" stroke="#555"/><path d="M351.84 435.5V430 M351.84 10V16.5" stroke-width="1" stroke="#555"/><path d="M365.05 435.5V429.7 M365.05 10V16.3" stroke-width="2"/><path d="M378.26 435.5V430 M378.26 10V16.5" stroke-width="1" stroke="#555"/><path d="M391.47 435.5V430 M391.47 10V16.5" stroke-width="1" stroke="#555"/><path d="M404.68 435.5V430 M404.68 10V16.5" stroke-width="1" stroke="#555"/><path d="M417.89 435.5V430 M417.89 10V16.5" stroke-width="1" stroke="#555"/><path d="M431.1 435.5V429.7 M431.1 10V16.3" stroke-width="2"/><path d="M444.31 435.5V430 M444.31 10V16.5" stroke-width="1" stroke="#555"/><path d="M457.52 435.5V430 M457.52 10V16.5" stroke-width="1" stroke="#555"/><path d="M470.73 435.5V430 M470.73 10V16.5" stroke-width="1" stroke="#555"/><path d="M483.94 435.5V430 M483.94 10V16.5" stroke-width="1" stroke="#555"/><path d="M497.15 435.5V429.7 M497.15 10V16.3" stroke-width="2"/><path d="M31.3 10H36.3 M497.7 10H492.7" stroke-width="1.2" stroke="#222"/><path d="M31.3 47.18H34.8 M497.7 47.18H494.2" stroke-width="0.9" stroke="#666"/><path d="M31.3 37.81H34.8 M497.7 37.81H494.2" stroke-width="0.9" stroke="#666"/><path d="M31.3 31.17H34.8 M497.7 31.17H494.2" stroke-width="0.9" stroke="#666"/><path d="M31.3 26.01H34.8 M497.7 26.01H494.2" stroke-width="0.9" stroke="#666"/><path d="M31.3 21.8H34.8 M497.7 21.8H494.2" stroke-width="0.9" stroke="#666"/><path d="M31.3 18.24H34.8 M497.7 18.24H494.2" stroke-width="0.9" stroke="#666"/><path d="M31.3 15.15H34.8 M497.7 15.15H494.2" stroke-width="0.9" stroke="#666"/><path d="M31.3 12.43H34.8 M497.7 12.43H494.2" stroke-width="0.9" stroke="#666"/><path d="M31.3 63.19H36.3 M497.7 63.19H492.7" stroke-width="1.2" stroke="#222"/><path d="M31.3 100.36H34.8 M497.7 100.36H494.2" stroke-width="0.9" stroke="#666"/><path d="M31.3 91H34.8 M497.7 91H494.2" stroke-width="0.9" stroke="#666"/><path d="M31.3 84.35H34.8 M497.7 84.35H494.2" stroke-width="0.9" stroke="#666"/><path d="M31.3 79.2H34.8 M497.7 79.2H494.2" stroke-width="0.9" stroke="#666"/><path d="M31.3 74.99H34.8 M497.7 74.99H494.2" stroke-width="0.9" stroke="#666"/><path d="M31.3 71.43H34.8 M497.7 71.43H494.2" stroke-width="0.9" stroke="#666"/><path d="M31.3 68.34H34.8 M497.7 68.34H494.2" stroke-width="0.9" stroke="#666"/><path d="M31.3 65.62H34.8 M497.7 65.62H494.2" stroke-width="0.9" stroke="#666"/><path d="M31.3 116.38H36.3 M497.7 116.38H492.7" stroke-width="1.2" stroke="#222"/><path d="M31.3 153.55H34.8 M497.7 153.55H494.2" stroke-width="0.9" stroke="#666"/><path d="M31.3 144.19H34.8 M497.7 144.19H494.2" stroke-width="0.9" stroke="#666"/><path d="M31.3 137.54H34.8 M497.7 137.54H494.2" stroke-width="0.9" stroke="#666"/><path d="M31.3 132.39H34.8 M497.7 132.39H494.2" stroke-width="0.9" stroke="#666"/><path d="M31.3 128.17H34.8 M497.7 128.17H494.2" stroke-width="0.9" stroke="#666"/><path d="M31.3 124.61H34.8 M497.7 124.61H494.2" stroke-width="0.9" stroke="#666"/><path d="M31.3 121.53H34.8 M497.7 121.53H494.2" stroke-width="0.9" stroke="#666"/><path d="M31.3 118.81H34.8 M497.7 118.81H494.2" stroke-width="0.9" stroke="#666"/><path d="M31.3 169.56H36.3 M497.7 169.56H492.7" stroke-width="1.2" stroke="#222"/><path d="M31.3 206.74H34.8 M497.7 206.74H494.2" stroke-width="0.9" stroke="#666"/><path d="M31.3 197.37H34.8 M497.7 197.37H494.2" stroke-width="0.9" stroke="#666"/><path d="M31.3 190.73H34.8 M497.7 190.73H494.2" stroke-width="0.9" stroke="#666"/><path d="M31.3 185.57H34.8 M497.7 185.57H494.2" stroke-width="0.9" stroke="#666"/><path d="M31.3 181.36H34.8 M497.7 181.36H494.2" stroke-width="0.9" stroke="#666"/><path d="M31.3 177.8H34.8 M497.7 177.8H494.2" stroke-width="0.9" stroke="#666"/><path d="M31.3 174.72H34.8 M497.7 174.72H494.2" stroke-width="0.9" stroke="#666"/><path d="M31.3 172H34.8 M497.7 172H494.2" stroke-width="0.9" stroke="#666"/><path d="M31.3 222.75H36.3 M497.7 222.75H492.7" stroke-width="1.2" stroke="#222"/><path d="M31.3 259.93H34.8 M497.7 259.93H494.2" stroke-width="0.9" stroke="#666"/><path d="M31.3 250.56H34.8 M497.7 250.56H494.2" stroke-width="0.9" stroke="#666"/><path d="M31.3 243.92H34.8 M497.7 243.92H494.2" stroke-width="0.9" stroke="#666"/><path d="M31.3 238.76H34.8 M497.7 238.76H494.2" stroke-width="0.9" stroke="#666"/><path d="M31.3 234.55H34.8 M497.7 234.55H494.2" stroke-width="0.9" stroke="#666"/><path d="M31.3 230.99H34.8 M497.7 230.99H494.2" stroke-width="0.9" stroke="#666"/><path d="M31.3 227.9H34.8 M497.7 227.9H494.2" stroke-width="0.9" stroke="#666"/><path d="M31.3 225.18H34.8 M497.7 225.18H494.2" stroke-width="0.9" stroke="#666"/><path d="M31.3 275.94H36.3 M497.7 275.94H492.7" stroke-width="1.2" stroke="#222"/><path d="M31.3 313.11H34.8 M497.7 313.11H494.2" stroke-width="0.9" stroke="#666"/><path d="M31.3 303.75H34.8 M497.7 303.75H494.2" stroke-width="0.9" stroke="#666"/><path d="M31.3 297.1H34.8 M497.7 297.1H494.2" stroke-width="0.9" stroke="#666"/><path d="M31.3 291.95H34.8 M497.7 291.95H494.2" stroke-width="0.9" stroke="#666"/><path d="M31.3 287.74H34.8 M497.7 287.74H494.2" stroke-width="0.9" stroke="#666"/><path d="M31.3 284.18H34.8 M497.7 284.18H494.2" stroke-width="0.9" stroke="#666"/><path d="M31.3 281.09H34.8 M497.7 281.09H494.2" stroke-width="0.9" stroke="#666"/><path d="M31.3 278.37H34.8 M497.7 278.37H494.2" stroke-width="0.9" stroke="#666"/><path d="M31.3 329.12H36.3 M497.7 329.12H492.7" stroke-width="1.2" stroke="#222"/><path d="M31.3 366.3H34.8 M497.7 366.3H494.2" stroke-width="0.9" stroke="#666"/><path d="M31.3 356.94H34.8 M497.7 356.94H494.2" stroke-width="0.9" stroke="#666"/><path d="M31.3 350.29H34.8 M497.7 350.29H494.2" stroke-width="0.9" stroke="#666"/><path d="M31.3 345.14H34.8 M497.7 345.14H494.2" stroke-width="0.9" stroke="#666"/><path d="M31.3 340.92H34.8 M497.7 340.92H494.2" stroke-width="0.9" stroke="#666"/><path d="M31.3 337.36H34.8 M497.7 337.36H494.2" stroke-width="0.9" stroke="#666"/><path d="M31.3 334.28H34.8 M497.7 334.28H494.2" stroke-width="0.9" stroke="#666"/><path d="M31.3 331.56H34.8 M497.7 331.56H494.2" stroke-width="0.9" stroke="#666"/><path d="M31.3 382.31H36.3 M497.7 382.31H492.7" stroke-width="1.2" stroke="#222"/><path d="M31.3 419.49H34.8 M497.7 419.49H494.2" stroke-width="0.9" stroke="#666"/><path d="M31.3 410.12H34.8 M497.7 410.12H494.2" stroke-width="0.9" stroke="#666"/><path d="M31.3 403.48H34.8 M497.7 403.48H494.2" stroke-width="0.9" stroke="#666"/><path d="M31.3 398.32H34.8 M497.7 398.32H494.2" stroke-width="0.9" stroke="#666"/><path d="M31.3 394.11H34.8 M497.7 394.11H494.2" stroke-width="0.9" stroke="#666"/><path d="M31.3 390.55H34.8 M497.7 390.55H494.2" stroke-width="0.9" stroke="#666"/><path d="M31.3 387.47H34.8 M497.7 387.47H494.2" stroke-width="0.9" stroke="#666"/><path d="M31.3 384.75H34.8 M497.7 384.75H494.2" stroke-width="0.9" stroke="#666"/><path d="M31.3 435.5H36.3 M497.7 435.5H492.7" stroke-width="1.2" stroke="#222"/></g>
<rect x="31.3" y="10" width="466.4" height="425.5" fill="none" stroke="#000" stroke-width="2.5"/>
<g font-family="Liberation Serif, Times New Roman, serif" font-size="17.5" fill="#111"><text x="34.8" y="454" text-anchor="middle">0</text><text x="100.85" y="454" text-anchor="middle">2000</text><text x="166.9" y="454" text-anchor="middle">4000</text><text x="232.95" y="454" text-anchor="middle">6000</text><text x="299" y="454" text-anchor="middle">8000</text><text x="365.05" y="454" text-anchor="middle">10000</text><text x="431.1" y="454" text-anchor="middle">12000</text><text x="497.15" y="454" text-anchor="middle">14000</text></g>
<text x="264.5" y="471.9" text-anchor="middle" font-family="Liberation Serif, Times New Roman, serif" font-size="19.5" fill="#111">epochs</text>
<g font-family="Liberation Serif, Times New Roman, serif" fill="#111"><text x="20.6" y="16.8" text-anchor="end" font-size="17.5">10</text><text x="20.6" y="9" font-size="10.5">2</text><text x="20.6" y="69.99" text-anchor="end" font-size="17.5">10</text><text x="20.6" y="62.19" font-size="10.5">1</text><text x="20.6" y="123.17" text-anchor="end" font-size="17.5">10</text><text x="20.6" y="115.38" font-size="10.5">0</text><text x="17.2" y="176.36" text-anchor="end" font-size="17.5">10</text><text x="17.4" y="168.56" font-size="10.5">-1</text><text x="17.2" y="229.55" text-anchor="end" font-size="17.5">10</text><text x="17.4" y="221.75" font-size="10.5">-2</text><text x="17.2" y="282.74" text-anchor="end" font-size="17.5">10</text><text x="17.4" y="274.94" font-size="10.5">-3</text><text x="17.2" y="335.93" text-anchor="end" font-size="17.5">10</text><text x="17.4" y="328.12" font-size="10.5">-4</text><text x="17.2" y="389.11" text-anchor="end" font-size="17.5">10</text><text x="17.4" y="381.31" font-size="10.5">-5</text><text x="17.2" y="442.3" text-anchor="end" font-size="17.5">10</text><text x="17.4" y="434.5" font-size="10.5">-6</text></g>
<rect x="282" y="29" width="202" height="142" fill="#fff" stroke="#222" stroke-width="1.5"/><g fill="none" stroke="#e020e0"><path d="M299 65.4H398" stroke-width="1.3"/><g stroke-width="1.1"><path d="M348.5 62.44L351.36 67.38L345.64 67.38Z"/></g></g><text x="415" y="72.7" font-family="Liberation Serif, Times New Roman, serif" font-size="22" letter-spacing="0.5" fill="#111">MSE</text><text x="460.3" y="80.8" font-family="Liberation Serif, Times New Roman, serif" font-size="13.5" fill="#111">ρ</text><g fill="none" stroke="#20d020"><path d="M299 92H398" stroke-width="1.3"/><g stroke-width="1.1"><circle cx="348.5" cy="92" r="2.8"/></g></g><text x="415" y="99.3" font-family="Liberation Serif, Times New Roman, serif" font-size="22" letter-spacing="0.5" fill="#111">MSE</text><text x="460.3" y="107.4" font-family="Liberation Serif, Times New Roman, serif" font-size="13.5" fill="#111">u</text><g fill="none" stroke="#d82020"><path d="M299 118.7H398" stroke-width="1.3"/><g stroke-width="1.1"><rect x="345.9" y="116.1" width="5.2" height="5.2"/></g></g><text x="415" y="126" font-family="Liberation Serif, Times New Roman, serif" font-size="22" letter-spacing="0.5" fill="#111">MSE</text><text x="460.3" y="134.1" font-family="Liberation Serif, Times New Roman, serif" font-size="13.5" fill="#111">p</text><g fill="none" stroke="#2828d8"><path d="M299 145.5H398" stroke-width="1.3"/><g stroke-width="1.1"><rect x="345.9" y="142.9" width="5.2" height="5.2"/></g></g><text x="415" y="152.8" font-family="Liberation Serif, Times New Roman, serif" font-size="22" letter-spacing="0.5" fill="#111">Loss</text>
</svg>
</body></html>
